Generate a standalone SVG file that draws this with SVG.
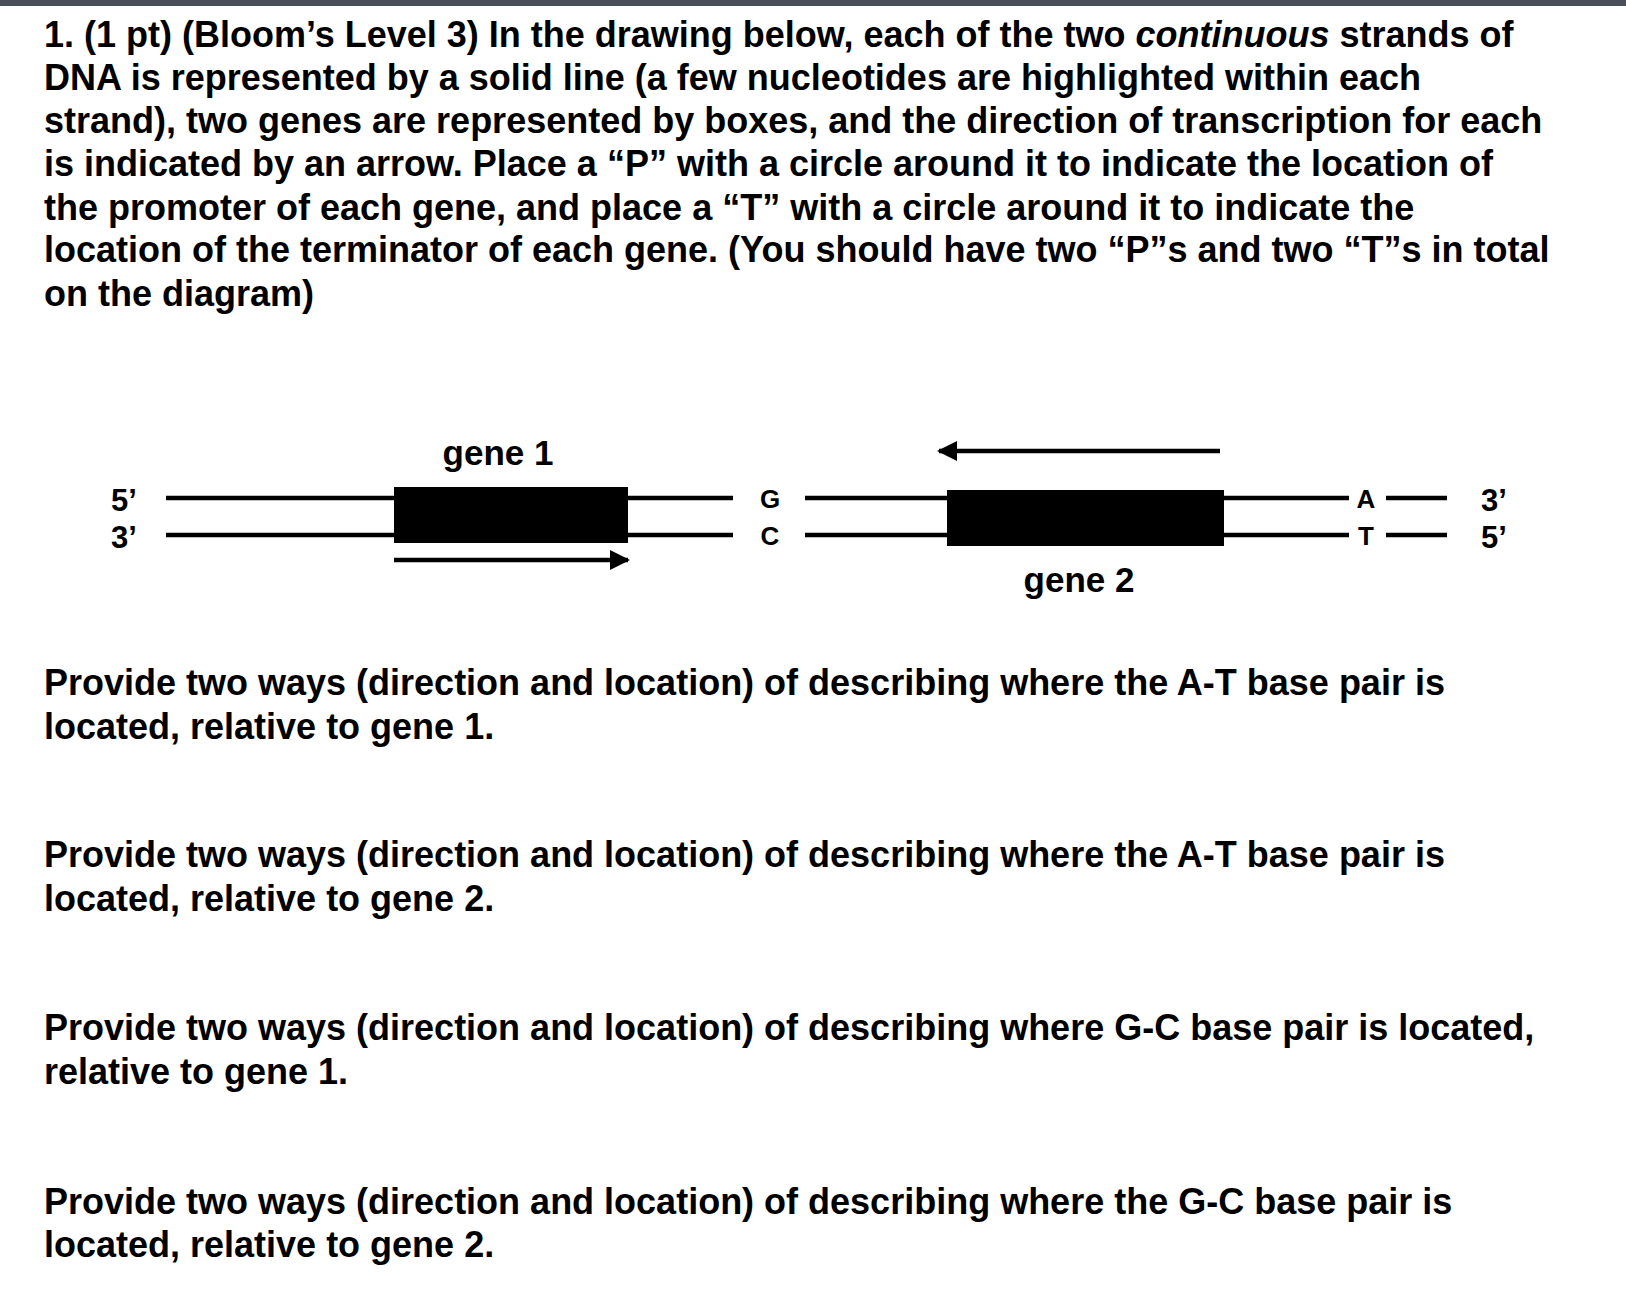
<svg xmlns="http://www.w3.org/2000/svg" width="1626" height="1292" viewBox="0 0 1626 1292">
<style>
text{font-family:"Liberation Sans",Arial,sans-serif;font-weight:bold;fill:#000}
.q{font-size:36px}
.l{font-size:35px}
.e{font-size:31px}
.b{font-size:26px}
.s{stroke:#000;stroke-width:4.5;fill:none}
</style>
<defs>
<marker id="ah" viewBox="0 0 10 10" refX="9" refY="5" markerWidth="4.5" markerHeight="4.5" orient="auto" markerUnits="strokeWidth"><path d="M0,0L10,5L0,10z" fill="#000"/></marker>
</defs>
<rect width="1626" height="1292" fill="#fff"/>
<rect width="1626" height="6" fill="#4a4f5a"/>
<g id="question">
<text class="q" x="44" y="47">1. (1 pt) (Bloom’s Level 3) In the drawing below, each of the two <tspan font-style="italic">continuous</tspan> strands of</text>
<text class="q" x="44" y="90">DNA is represented by a solid line (a few nucleotides are highlighted within each</text>
<text class="q" x="44" y="133">strand), two genes are represented by boxes, and the direction of transcription for each</text>
<text class="q" x="44" y="176">is indicated by an arrow. Place a “P” with a circle around it to indicate the location of</text>
<text class="q" x="44" y="220">the promoter of each gene, and place a “T” with a circle around it to indicate the</text>
<text class="q" x="44" y="262">location of the terminator of each gene. (You should have two “P”s and two “T”s in total</text>
<text class="q" x="44" y="306">on the diagram)</text>
</g>
<g id="connectors">
<line class="s" x1="166" y1="498" x2="733" y2="498"/>
<line class="s" x1="166" y1="535" x2="733" y2="535"/>
<line class="s" x1="805" y1="498" x2="1349" y2="498"/>
<line class="s" x1="805" y1="535" x2="1349" y2="535"/>
<line class="s" x1="1386" y1="498" x2="1447" y2="498"/>
<line class="s" x1="1386" y1="535" x2="1447" y2="535"/>
<line class="s" x1="394" y1="560" x2="628" y2="560" marker-end="url(#ah)"/>
<line class="s" x1="1220" y1="451" x2="939" y2="451" marker-end="url(#ah)"/>
</g>
<g id="gene1"><rect x="394" y="487" width="234" height="56" fill="#000"/><text class="l" x="498" y="465" text-anchor="middle">gene 1</text></g>
<g id="gene2"><rect x="947" y="490" width="277" height="56" fill="#000"/><text class="l" x="1079" y="592" text-anchor="middle">gene 2</text></g>
<g id="labels">
<text class="e" x="124" y="511" text-anchor="middle">5’</text>
<text class="e" x="124" y="548" text-anchor="middle">3’</text>
<text class="b" x="770" y="508" text-anchor="middle">G</text>
<text class="b" x="770" y="545" text-anchor="middle">C</text>
<text class="b" x="1366" y="508" text-anchor="middle">A</text>
<text class="b" x="1366" y="545" text-anchor="middle">T</text>
<text class="e" x="1494" y="511" text-anchor="middle">3’</text>
<text class="e" x="1494" y="548" text-anchor="middle">5’</text>
</g>
<g id="prompts">
<text class="q" x="44" y="695">Provide two ways (direction and location) of describing where the A-T base pair is</text>
<text class="q" x="44" y="739">located, relative to gene 1.</text>
<text class="q" x="44" y="867">Provide two ways (direction and location) of describing where the A-T base pair is</text>
<text class="q" x="44" y="911">located, relative to gene 2.</text>
<text class="q" x="44" y="1040">Provide two ways (direction and location) of describing where G-C base pair is located,</text>
<text class="q" x="44" y="1084">relative to gene 1.</text>
<text class="q" x="44" y="1214">Provide two ways (direction and location) of describing where the G-C base pair is</text>
<text class="q" x="44" y="1257">located, relative to gene 2.</text>
</g>
</svg>
